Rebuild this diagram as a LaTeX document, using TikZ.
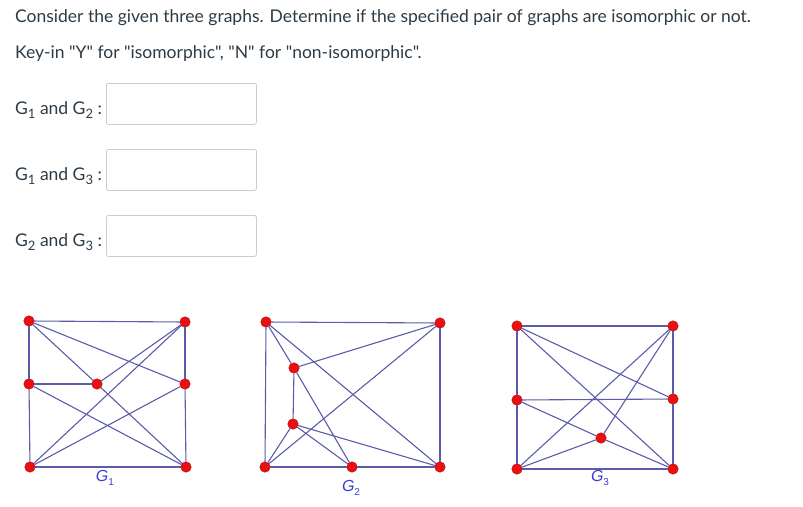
\documentclass[tikz,border=0pt]{standalone}
\usepackage{fontspec}
\setmainfont{Lato}[Ligatures=TeXOff]
\newfontfamily\glabelfont{Liberation Sans}
\usetikzlibrary{positioning, calc}

\definecolor{canvastext}{RGB}{45,59,69}
\definecolor{boxline}{RGB}{199,205,209}
\definecolor{edgeblue}{RGB}{92,92,170}
\definecolor{dotred}{RGB}{232,16,16}
\definecolor{labelblue}{RGB}{60,60,210}

\newcommand{\Gname}[1]{G\raisebox{-0.28em}{\fontsize{13}{13}\selectfont #1}}
\newcommand{\Glabel}[1]{{\itshape G}\raisebox{-3.5pt}{\fontsize{10}{10}\selectfont #1}}

\begin{document}
\begin{tikzpicture}[x=1pt, y=-1pt,
    txt/.style={anchor=base west, inner sep=0pt, text=canvastext, font=\fontsize{17.5}{20}\selectfont},
    ansbox/.style={draw=boxline, rounded corners=2pt, line width=0.8pt, minimum width=150pt, minimum height=41pt, anchor=north west},
    vtx/.style={circle, fill=dotred, draw=red!75!black, line width=0.4pt, inner sep=0pt, minimum size=10.5pt},
    gline/.style={draw=edgeblue, line width=1.1pt},
    glabel/.style={text=labelblue, font=\glabelfont\fontsize{16}{18}\selectfont}]
\useasboundingbox (0,0) rectangle (803,506);

% Question text
\node[txt] (q1) at (15,22) {Consider the given three graphs. Determine if the specified pair of graphs are isomorphic or not.};
\node[txt] (q2) at (15,58) {Key-in "Y" for "isomorphic", "N" for "non-isomorphic".};

% Answer rows
\foreach \n/\a/\b/\y in {r1/1/2/0, r2/1/3/66, r3/2/3/132} {
    \node[txt] (\n) at (15,114+\y) {\Gname{\a} and \Gname{\b} :};
    \node[ansbox] (\n box) at (106,83+\y) {};
}

% Graph G1
\foreach \v/\x/\y in {a1/29/321, a2/185/322, a3/29/384, a4/97/384, a5/185/384, a6/30/467, a7/186/467}
    \node[vtx] (\v) at (\x,\y) {};
\foreach \s/\t in {a1/a2, a1/a3, a3/a6, a6/a7, a2/a5, a5/a7, a3/a4, a1/a4, a4/a7, a1/a5, a2/a4, a2/a6, a3/a7, a5/a6}
    \draw[gline] (\s) -- (\t);
\node[glabel] (g1) at (105,478) {\Glabel{1}};

% Graph G2
\foreach \v/\x/\y in {b1/266/322, b2/440/323, b3/294/368, b4/293/424, b5/265/467, b6/352/467, b7/440/467}
    \node[vtx] (\v) at (\x,\y) {};
\foreach \s/\t in {b1/b2, b1/b5, b2/b7, b5/b6, b6/b7, b1/b3, b1/b7, b3/b2, b3/b4, b3/b6, b4/b5, b4/b6, b4/b7, b5/b2}
    \draw[gline] (\s) -- (\t);
\node[glabel] (g2) at (351,488) {\Glabel{2}};

% Graph G3
\foreach \v/\x/\y in {c1/517/326, c2/673/326, c3/517/400, c4/673/399, c5/601/438, c6/517/469, c7/673/469}
    \node[vtx] (\v) at (\x,\y) {};
\foreach \s/\t in {c1/c2, c1/c3, c3/c6, c6/c7, c2/c4, c4/c7, c3/c4, c1/c4, c1/c7, c2/c6, c2/c5, c3/c5, c5/c6, c5/c7}
    \draw[gline] (\s) -- (\t);
\node[glabel] (g3) at (600,478) {\Glabel{3}};
\end{tikzpicture}
\end{document}
